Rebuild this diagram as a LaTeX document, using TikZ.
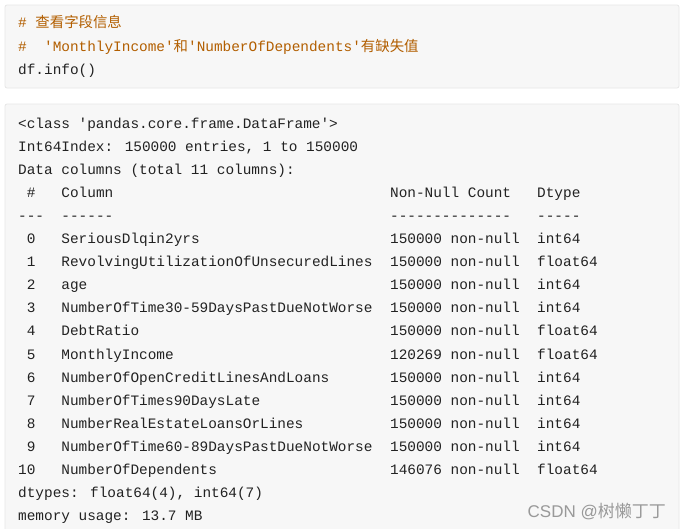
\documentclass[tikz,border=0pt]{standalone}
\usepackage{fontspec}
\newfontfamily\mono{Liberation Mono}
\newfontfamily\cjk{Noto Sans CJK SC}
\setmainfont{Liberation Sans}
\definecolor{cmt}{HTML}{B25E00}
\definecolor{txt}{HTML}{222222}
\definecolor{boxbg}{HTML}{F7F7F7}
\definecolor{boxln}{HTML}{E6E6E6}
\tikzset{codebox/.style={fill=boxbg,draw=boxln,line width=0.8pt,rounded corners=2pt},
 ct/.style={anchor=base west,inner sep=0pt,font=\mono\fontsize{14.4}{16}\selectfont,text=txt},
 cmtext/.style={ct,text=cmt}}
\newcommand\rowy[1]{\fpeval{128+23.1*#1}}
\newcommand\cl[4]{\node[ct] (#1) at ({18+8.65*#2},{-\rowy{#3}}) {#4};}
\begin{document}
\begin{tikzpicture}[x=1pt,y=1pt]
\useasboundingbox (0,0) rectangle (680,-528);
\path[codebox] (5,-5) rectangle (679,-88) node[coordinate] (b1) {};
\path[codebox] (5,-104) rectangle (679,-535) node[coordinate] (b2) {};
\node[cmtext] (c1) at (18,-27) {\#\ {\cjk 查看字段信息}};
\node[cmtext] (c2) at (18,-51) {\#\ \ 'MonthlyIncome'{\cjk 和}'NumberOfDependents'{\cjk 有缺失值}};
\node[ct] (c3) at (18,-74) {df.info()};
\cl{l0}{0}{0}{<class 'pandas.core.frame.DataFrame'>}
\cl{l1}{0}{1}{Int64Index: 150000 entries, 1 to 150000}
\cl{l2}{0}{2}{Data columns (total 11 columns):}
\cl{h1}{1}{3}{\#}
\cl{h2}{5}{3}{Column}
\cl{h3}{43}{3}{Non-Null Count}
\cl{h4}{60}{3}{Dtype}
\cl{d1}{0}{4}{---}
\cl{d2}{5}{4}{------}
\cl{d3}{43}{4}{--------------}
\cl{d4}{60}{4}{-----}
\cl{i0}{1}{5}{0}\cl{n0}{5}{5}{SeriousDlqin2yrs}\cl{v0}{43}{5}{150000 non-null}\cl{t0}{60}{5}{int64}
\cl{i1}{1}{6}{1}\cl{n1}{5}{6}{RevolvingUtilizationOfUnsecuredLines}\cl{v1}{43}{6}{150000 non-null}\cl{t1}{60}{6}{float64}
\cl{i2}{1}{7}{2}\cl{n2}{5}{7}{age}\cl{v2}{43}{7}{150000 non-null}\cl{t2}{60}{7}{int64}
\cl{i3}{1}{8}{3}\cl{n3}{5}{8}{NumberOfTime30-59DaysPastDueNotWorse}\cl{v3}{43}{8}{150000 non-null}\cl{t3}{60}{8}{int64}
\cl{i4}{1}{9}{4}\cl{n4}{5}{9}{DebtRatio}\cl{v4}{43}{9}{150000 non-null}\cl{t4}{60}{9}{float64}
\cl{i5}{1}{10}{5}\cl{n5}{5}{10}{MonthlyIncome}\cl{v5}{43}{10}{120269 non-null}\cl{t5}{60}{10}{float64}
\cl{i6}{1}{11}{6}\cl{n6}{5}{11}{NumberOfOpenCreditLinesAndLoans}\cl{v6}{43}{11}{150000 non-null}\cl{t6}{60}{11}{int64}
\cl{i7}{1}{12}{7}\cl{n7}{5}{12}{NumberOfTimes90DaysLate}\cl{v7}{43}{12}{150000 non-null}\cl{t7}{60}{12}{int64}
\cl{i8}{1}{13}{8}\cl{n8}{5}{13}{NumberRealEstateLoansOrLines}\cl{v8}{43}{13}{150000 non-null}\cl{t8}{60}{13}{int64}
\cl{i9}{1}{14}{9}\cl{n9}{5}{14}{NumberOfTime60-89DaysPastDueNotWorse}\cl{v9}{43}{14}{150000 non-null}\cl{t9}{60}{14}{int64}
\cl{i10}{0}{15}{10}\cl{n10}{5}{15}{NumberOfDependents}\cl{v10}{43}{15}{146076 non-null}\cl{t10}{60}{15}{float64}
\cl{f1}{0}{16}{dtypes: float64(4), int64(7)}
\cl{f2}{0}{17}{memory usage: 13.7 MB}
\node[anchor=base east,inner sep=0pt,text=black!40,font=\fontsize{17}{19}\selectfont] (wm) at (666,-517) {CSDN @{\cjk 树懒丁丁}};
\end{tikzpicture}
\end{document}
